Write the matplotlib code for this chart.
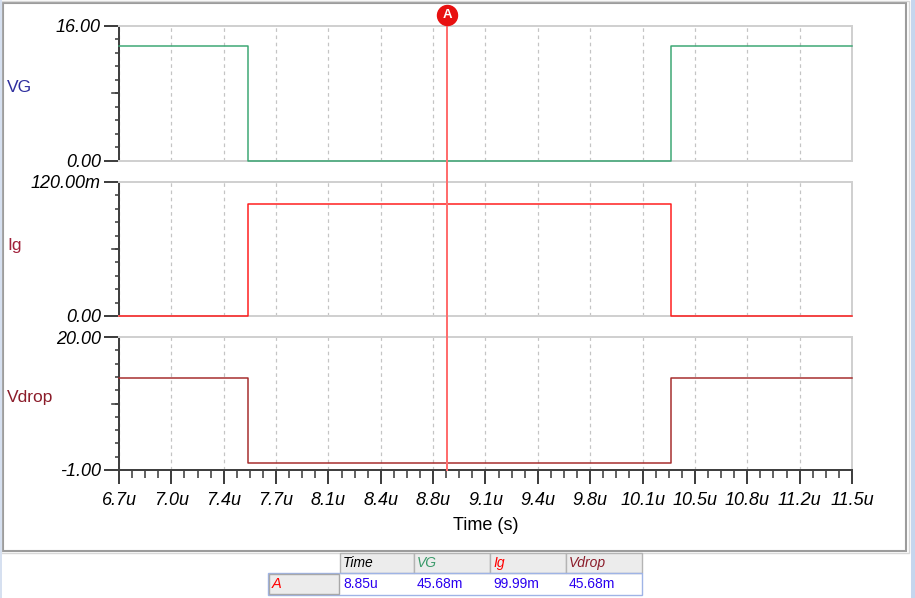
#!/usr/bin/env python3
"""Transient waveforms VG / Ig / Vdrop with cursor A and readout table."""
import matplotlib
matplotlib.use("Agg")
import matplotlib.pyplot as plt
import matplotlib.transforms as mtransforms
from matplotlib.lines import Line2D
from matplotlib.patches import Rectangle
import numpy as np

plt.rcParams["font.family"] = ["Liberation Sans", "DejaVu Sans"]

W, H = 915, 598
PT = 0.72  # points per pixel at dpi 100

# waveform breakpoints, time in us (step-post)
time_us = [6.7, 7.545, 10.315, 11.5]
vg = [13.6, 0.04568, 13.6, 13.6]
ig = [0.0, 0.09999, 0.0, 0.0]
vdrop = [13.6, 0.04568, 13.6, 13.6]

t_min, t_max = 6.7, 11.5
n_div = 14

panel_names = ["VG", "Ig", "Vdrop"]
panel_limits = [(0.0, 16.0), (0.0, 0.12), (-1.0, 20.0)]
panel_ticklabels = [("0.00", "16.00"), ("0.00", "120.00m"), ("-1.00", "20.00")]

cursor_label = "A"
cursor_time = 8.85
table_headers = ["Time", "VG", "Ig", "Vdrop"]
table_values = ["8.85u", "45.68m", "99.99m", "45.68m"]

TRACE_COLORS = ["#3aa673", "#ff1a1a", "#a52a2a"]
NAME_COLORS = ["#2e2e9e", "#a0203a", "#8b1c2a"]
HEADER_COLORS = ["#000000", "#3a9a6a", "#ff0000", "#8b1c2a"]
AXIS_DARK = "#404040"
AXIS_LIGHT = "#d0d0d0"


def fx(px):
    return px / W


def fy(py):
    return 1 - py / H


fig = plt.figure(figsize=(W / 100, H / 100), dpi=100)

panel_px = [(26, 161), (182, 316), (337, 470)]
name_base = [92, 250, 402]
left_px, right_px = 119, 852
series = [vg, ig, vdrop]

major_x = np.linspace(t_min, t_max, n_div + 1)
minor_x = np.linspace(t_min, t_max, n_div * 4 + 1)

axes = []
for i, (top, bot) in enumerate(panel_px):
    ax = fig.add_axes([fx(left_px), fy(bot), (right_px - left_px) / W, (bot - top) / H])
    axes.append(ax)
    ymin, ymax = panel_limits[i]
    ax.plot(time_us, series[i], drawstyle="steps-post", color=TRACE_COLORS[i],
            lw=1.5 * PT, clip_on=False, zorder=3)
    ax.set_xlim(t_min, t_max)
    ax.set_ylim(ymin, ymax)

    ax.set_xticks(major_x)
    ax.grid(axis="x", color="#c4c4c4", linestyle=(0, (3, 3)), lw=1.2 * PT)
    if i < 2:
        ax.tick_params(axis="x", length=0, labelbottom=False)
    else:
        ax.set_xticks(minor_x, minor=True)
        ax.set_xticklabels([f"{v:.1f}u" for v in major_x], fontstyle="italic", fontsize=13)
        ax.tick_params(axis="x", which="major", length=14 * PT, width=2 * PT,
                       color=AXIS_DARK, pad=8 * PT)
        ax.tick_params(axis="x", which="minor", length=8 * PT, width=1.6 * PT, color=AXIS_DARK)

    ax.set_yticks([ymin, ymax])
    ax.set_yticklabels(panel_ticklabels[i], fontstyle="italic", fontsize=13)
    ax.set_yticks(np.linspace(ymin, ymax, 11)[1:-1], minor=True)
    ax.tick_params(axis="y", which="major", length=15 * PT, width=2 * PT,
                   color=AXIS_DARK, pad=3 * PT)
    ax.tick_params(axis="y", which="minor", length=4 * PT, width=1.6 * PT, color=AXIS_DARK)
    # longer middle tick
    blend = mtransforms.blended_transform_factory(ax.transAxes, ax.transData)
    ax.plot([-7 / (right_px - left_px), 0], [(ymin + ymax) / 2] * 2, transform=blend,
            color=AXIS_DARK, lw=1.6 * PT, clip_on=False)

    for side in ("top", "right"):
        ax.spines[side].set_color(AXIS_LIGHT)
        ax.spines[side].set_linewidth(2 * PT)
    ax.spines["left"].set_color(AXIS_DARK)
    ax.spines["left"].set_linewidth(2 * PT)
    ax.spines["bottom"].set_linewidth(2 * PT)
    ax.spines["bottom"].set_color(AXIS_DARK if i == 2 else AXIS_LIGHT)

    fig.text(fx(7), fy(name_base[i]), panel_names[i], color=NAME_COLORS[i],
             fontsize=12.5, ha="left", va="baseline")

fig.text(fx(486), fy(530), "Time (s)", fontsize=13, ha="center", va="baseline")

# cursor A
cblend = mtransforms.blended_transform_factory(axes[2].transData, fig.transFigure)
fig.add_artist(Line2D([cursor_time, cursor_time], [fy(470), fy(16)], transform=cblend,
                      color="#ff6e6e", lw=2 * PT, zorder=5))
fig.add_artist(Line2D([cursor_time], [fy(15)], transform=cblend, marker="o", ms=20 * PT,
                      mfc="#e81010", mec="#e81010", zorder=6))
fig.text(cursor_time, fy(15.5), cursor_label, transform=cblend, color="white",
         fontsize=9.5, fontweight="bold", ha="center", va="center", zorder=7)

# window frame
fig.add_artist(Rectangle((fx(3), fy(551)), (906 - 3) / W, (551 - 3) / H, fill=False,
                         ec="#9c9c9c", lw=1.5, transform=fig.transFigure))
fig.add_artist(Rectangle((fx(1), fy(553)), (909 - 1) / W, (553 - 1) / H, fill=False,
                         ec="#d8d8d8", lw=1, transform=fig.transFigure))
fig.add_artist(Rectangle((fx(911), 0), 4 / W, 1, fc="#c6d6ee", ec="none",
                         transform=fig.transFigure))
fig.add_artist(Rectangle((0, 0), 1.5 / W, 1, fc="#d6e0f0", ec="none",
                         transform=fig.transFigure))

# readout table
cols = [268, 340, 414, 490, 566, 642]
r0, r1, r2 = 553, 573, 595
for c in range(1, 5):
    fig.add_artist(Rectangle((fx(cols[c]), fy(r1)), (cols[c + 1] - cols[c]) / W, (r1 - r0) / H,
                             fc="#ececec", ec="#b4b4b4", lw=1, transform=fig.transFigure))
    fig.text(fx(cols[c] + 3), fy(563), table_headers[c - 1], color=HEADER_COLORS[c - 1],
             fontsize=10, fontstyle="italic", ha="left", va="center")
    fig.text(fx(cols[c] + 3), fy(584), table_values[c - 1], color="#2a00f0",
             fontsize=10, ha="left", va="center")
fig.add_artist(Rectangle((fx(cols[0]), fy(r2)), (cols[5] - cols[0]) / W, (r2 - r1) / H,
                         fill=False, ec="#9fb4e6", lw=1, transform=fig.transFigure))
fig.add_artist(Rectangle((fx(cols[0] + 1), fy(r2 - 1)), (cols[1] - cols[0] - 2) / W,
                         (r2 - r1 - 2) / H, fc="#ececec", ec="#a8a8a8", lw=1,
                         transform=fig.transFigure))
fig.text(fx(cols[0] + 4), fy(584), cursor_label, color="#ff0000", fontsize=10.5,
         fontstyle="italic", ha="left", va="center")

fig.savefig("out.png", dpi=100)
